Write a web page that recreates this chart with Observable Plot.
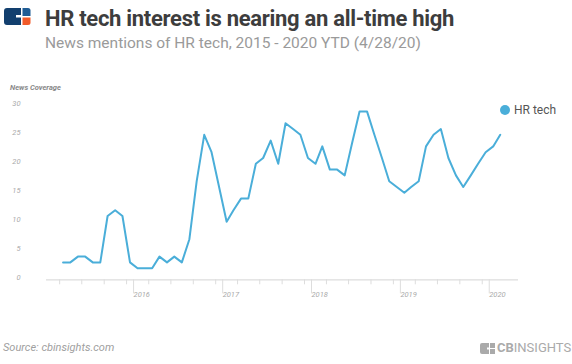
<!DOCTYPE html>
<html><head><meta charset="utf-8">
<script src="https://cdn.jsdelivr.net/npm/d3@7"></script>
<script src="https://cdn.jsdelivr.net/npm/@observablehq/plot@0.6"></script>
<style>
body{margin:0;background:#fff;font-family:Roboto,sans-serif;}
#wrap{position:relative;width:572px;height:364px;overflow:hidden;background:#fff;}
.abs{position:absolute;white-space:nowrap;}
#title{left:45px;top:7.5px;font-size:22px;line-height:22px;font-weight:700;color:#3d3d3d;letter-spacing:-0.3px;}
#subtitle{left:45px;top:35.5px;font-size:15.5px;line-height:15.5px;color:#9a9a9a;}
#ylabel{left:10px;top:84px;font-size:7.5px;line-height:8px;font-weight:700;font-style:italic;color:#888;}
#legend{left:500px;top:103px;font-size:12px;line-height:14px;color:#555;display:flex;align-items:center;}
#legend .dot{width:10px;height:10px;border-radius:50%;background:#4aaed9;margin-right:4px;}
#source{left:3px;top:341px;font-size:11px;line-height:13px;font-style:italic;color:#a0a0a0;}
#brand{left:480px;top:341px;font-size:13px;line-height:14px;color:#aaa;display:flex;align-items:center;}
#chart{left:0;top:0;}
</style></head><body>
<div id="wrap">
  <div id="chart" class="abs"></div>
  <svg class="abs" style="left:0;top:0" width="36" height="30">
    <path d="M7,8 H21 V15 H16 V17.5 H21 V25 H7 Q4,25 4,22 V11 Q4,8 7,8 Z" fill="#123f6e"/>
    <path d="M22.5,8 H28 Q30.5,8 30.5,10.5 V16 H22.5 Z" fill="#1f5c94"/>
    <path d="M22.5,17.5 H30.5 V22.5 Q30.5,25 28,25 H22.5 Z" fill="#f15a29"/>
  </svg>
  <div id="title" class="abs">HR tech interest is nearing an all-time high</div>
  <div id="subtitle" class="abs">News mentions of HR tech, 2015 - 2020 YTD (4/28/20)</div>
  <div id="ylabel" class="abs">News Coverage</div>
  <div id="legend" class="abs"><span class="dot"></span><span>HR tech</span></div>
  <div id="source" class="abs">Source: cbinsights.com</div>
  <div id="brand" class="abs">
    <svg width="15" height="11" style="margin-right:2px">
      <path d="M2,0 H9 V4.5 H7 V6.5 H9 V11 H2 Q0,11 0,9 V2 Q0,0 2,0 Z" fill="#aaa"/>
      <rect x="10" y="0" width="5" height="5" fill="#aaa"/>
      <rect x="10" y="6" width="5" height="5" fill="#aaa"/>
    </svg>
    <span style="font-weight:700">CB</span><span>INSIGHTS</span>
  </div>
</div>
<script>
const seriesName = "HR tech";
const months = [
  "2015-04","2015-05","2015-06","2015-07","2015-08","2015-09","2015-10","2015-11","2015-12",
  "2016-01","2016-02","2016-03","2016-04","2016-05","2016-06","2016-07","2016-08","2016-09","2016-10","2016-11","2016-12",
  "2017-01","2017-02","2017-03","2017-04","2017-05","2017-06","2017-07","2017-08","2017-09","2017-10","2017-11","2017-12",
  "2018-01","2018-02","2018-03","2018-04","2018-05","2018-06","2018-07","2018-08","2018-09","2018-10","2018-11","2018-12",
  "2019-01","2019-02","2019-03","2019-04","2019-05","2019-06","2019-07","2019-08","2019-09","2019-10","2019-11","2019-12",
  "2020-01","2020-02","2020-03"
];
const coverage = [
  3,3,4,4,3,3,11,12,11,
  3,2,2,2,4,3,4,3,7,17,25,22,
  16,10,12,14,14,20,21,24,20,27,26,25,
  21,20,23,19,19,18,23.5,29,29,25,21,17,
  16,15,16,17,23,25,26,21,18,16,18,20,
  22,23,25
];
const yTicks = [0,5,10,15,20,25,30];
const yearTicks = ["2016","2017","2018","2019","2020"];
const quarterTicks = [
  "2015-04","2015-07","2015-10","2016-01","2016-04","2016-07","2016-10",
  "2017-01","2017-04","2017-07","2017-10","2018-01","2018-04","2018-07","2018-10",
  "2019-01","2019-04","2019-07","2019-10","2020-01"
];
const xDomain = ["2015-02-06","2020-05-29"];

const data = months.map((m, i) => ({date: new Date(m + "-15T00:00:00Z"), value: coverage[i], series: seriesName}));
const toDate = s => new Date((s.length === 4 ? s + "-01-01" : s.length === 7 ? s + "-01" : s) + "T00:00:00Z");

const chart = Plot.plot({
  width: 572,
  height: 320,
  marginLeft: 46,
  marginRight: 54,
  marginTop: 105.3,
  marginBottom: 40.7,
  style: {fontFamily: "Roboto, sans-serif", background: "transparent"},
  x: {type: "utc", domain: xDomain.map(toDate)},
  y: {domain: [0, 30]},
  marks: [
    Plot.axisY(yTicks, {tickSize: 0, tickPadding: 26, fontStyle: "italic", fill: "#aaa", fontSize: 7.5, dy: -2, label: null}),
    Plot.axisX(quarterTicks.map(toDate), {tickSize: 5, tickFormat: () => "", stroke: "#ddd", label: null}),
    Plot.axisX(yearTicks.map(toDate), {tickSize: 14, tickPadding: -2, tickFormat: "%Y", textAnchor: "start", dx: 7, fontStyle: "italic", fill: "#aaa", stroke: "#ddd", fontSize: 7.5, label: null}),
    Plot.ruleY([0], {stroke: "#ddd", strokeWidth: 1.2}),
    Plot.lineY(data, {x: "date", y: "value", stroke: "#4aaed9", strokeWidth: 2})
  ]
});
document.getElementById("chart").appendChild(chart);
</script>
</body></html>
